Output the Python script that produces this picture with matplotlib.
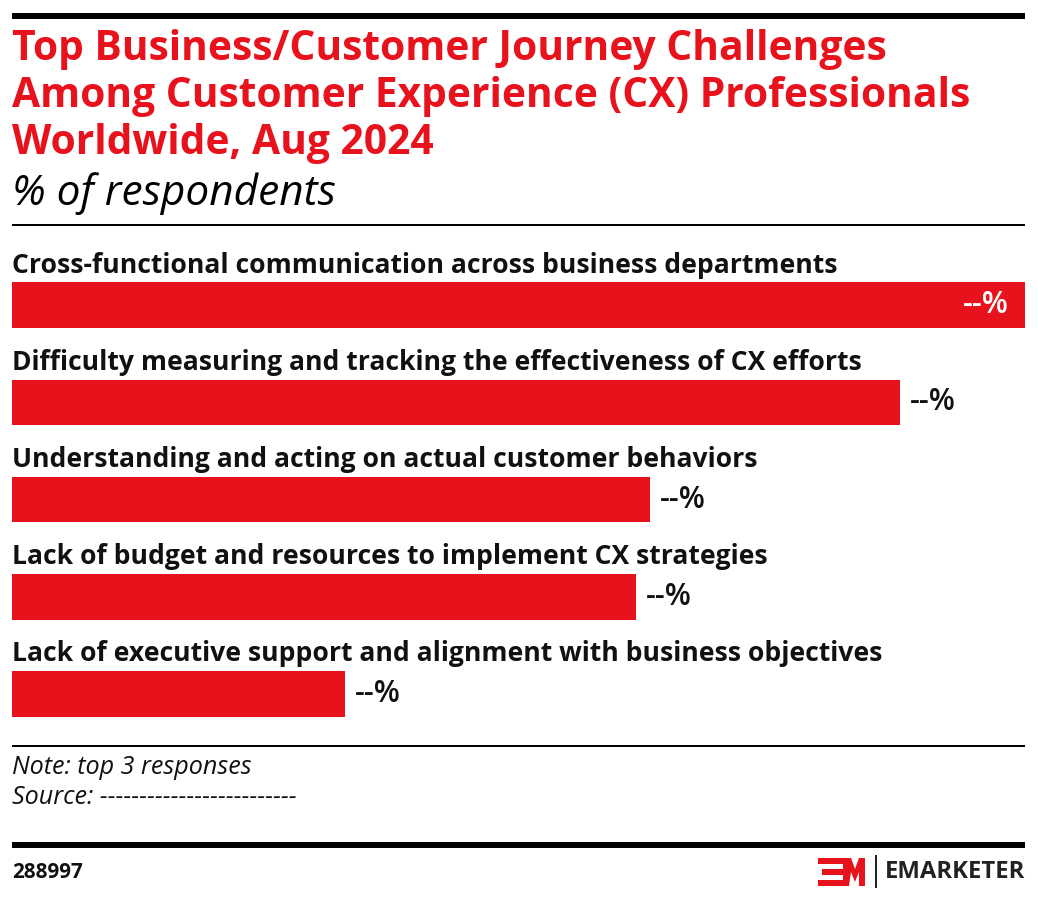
import matplotlib
matplotlib.use("Agg")
import matplotlib.pyplot as plt
from matplotlib.patches import Rectangle, Polygon

W, H = 1038, 902
RED = '#E8121D'

title_lines = ["Top Business/Customer Journey Challenges",
               "Among Customer Experience (CX) Professionals",
               "Worldwide, Aug 2024"]
subtitle = "% of respondents"
categories = ["Cross-functional communication across business departments",
              "Difficulty measuring and tracking the effectiveness of CX efforts",
              "Understanding and acting on actual customer behaviors",
              "Lack of budget and resources to implement CX strategies",
              "Lack of executive support and alignment with business objectives"]
# values not disclosed in the source ("--%"), bar lengths
values = [100.0, 87.7, 63.0, 61.6, 32.9]
value_labels = ["--%", "--%", "--%", "--%", "--%"]
note = "Note: top 3 responses"
source = "Source: -------------------------"
chart_id = "288997"

FONT = 'Open Sans'

def fx(x):
    return x / W

def fy(y):
    return 1 - y / H

fig = plt.figure(figsize=(W / 100, H / 100), dpi=100)
fig.patch.set_facecolor('white')
renderer = fig.canvas.get_renderer()

def fit(s, target, **kw):
    # font size that makes the string about target px wide
    t = fig.text(0, 0, s, fontsize=10, family=FONT, **kw)
    w = t.get_window_extent(renderer).width
    t.remove()
    return 10 * target / w

def hrule(y0, y1):
    fig.patches.append(Rectangle((fx(12), fy(y1)), fx(1025) - fx(12), fy(y0) - fy(y1),
                                 transform=fig.transFigure, color='black', lw=0))

hrule(13, 19)
hrule(224, 226)
hrule(745, 747)
hrule(842, 848)

ts = fit(title_lines[1], 958, fontweight='bold')
for i, line in enumerate(title_lines):
    fig.text(fx(12), fy(49 + 47.5 * i), line, color=RED, fontsize=ts, fontweight='bold',
             family=FONT, va='center', ha='left')
fig.text(fx(12), fy(194), subtitle, color='black', fontsize=fit(subtitle, 323, style='italic'),
         style='italic', family=FONT, va='center', ha='left')

# bars
ax = fig.add_axes([fx(12), fy(730), fx(1025) - fx(12), fy(240) - fy(730)])
pos = list(range(len(categories)))
ax.barh(pos, values, height=0.474, color=RED, left=0)
ax.set_xlim(0, max(values))
ax.set_ylim(4.376, -0.675)
ax.axis('off')
ls = fit(categories[0], 823, fontweight='bold')
vs = fit("--%", 46, fontweight='semibold')
for i, (c, v, lab) in enumerate(zip(categories, values, value_labels)):
    ax.text(0, i - 0.41, c, fontsize=ls, fontweight='bold', family=FONT,
            va='center', ha='left', color='#111111')
    if v >= max(values) * 0.95:
        ax.annotate(lab, (v, i), xytext=(-12, 0), textcoords='offset points',
                    color='white', fontsize=vs, fontweight='semibold', family=FONT,
                    va='center', ha='right')
    else:
        ax.annotate(lab, (v, i), xytext=(7, 0), textcoords='offset points',
                    color='#111111', fontsize=vs, fontweight='semibold', family=FONT,
                    va='center', ha='left')

ns = fit(note, 240, style='italic')
fig.text(fx(12), fy(768), note, fontsize=ns, style='italic', family=FONT,
         va='center', ha='left', color='#111111')
fig.text(fx(12), fy(797), source, fontsize=ns, style='italic', family=FONT,
         va='center', ha='left', color='#111111')
fig.text(fx(12), fy(872), chart_id, fontsize=fit(chart_id, 71, fontweight='bold'),
         fontweight='bold', family=FONT, va='center', ha='left', color='#111111')

# logo mark
def poly(pts, color):
    fig.patches.append(Polygon([(fx(x), fy(y)) for x, y in pts], closed=True,
                               transform=fig.transFigure, color=color, lw=0))

poly([(818, 858), (843, 858), (843, 864), (818, 864)], RED)
poly([(822, 869), (843, 869), (843, 875), (822, 875)], RED)
poly([(818, 880), (843, 880), (843, 886), (818, 886)], RED)
poly([(843, 886), (843, 858), (851, 858), (855, 869), (859, 858), (865, 858),
      (865, 886), (859, 886), (859, 872), (855, 882), (851, 872), (849, 886)], RED)
fig.patches.append(Rectangle((fx(875), fy(888)), fx(2), fy(855) - fy(888),
                             transform=fig.transFigure, color='#222222', lw=0))
fig.text(fx(1025), fy(872), "EMARKETER", fontsize=fit("EMARKETER", 140, fontweight='bold'),
         fontweight='bold', family=FONT, va='center', ha='right', color='#222222')

fig.savefig('out.png', dpi=100, facecolor='white')
